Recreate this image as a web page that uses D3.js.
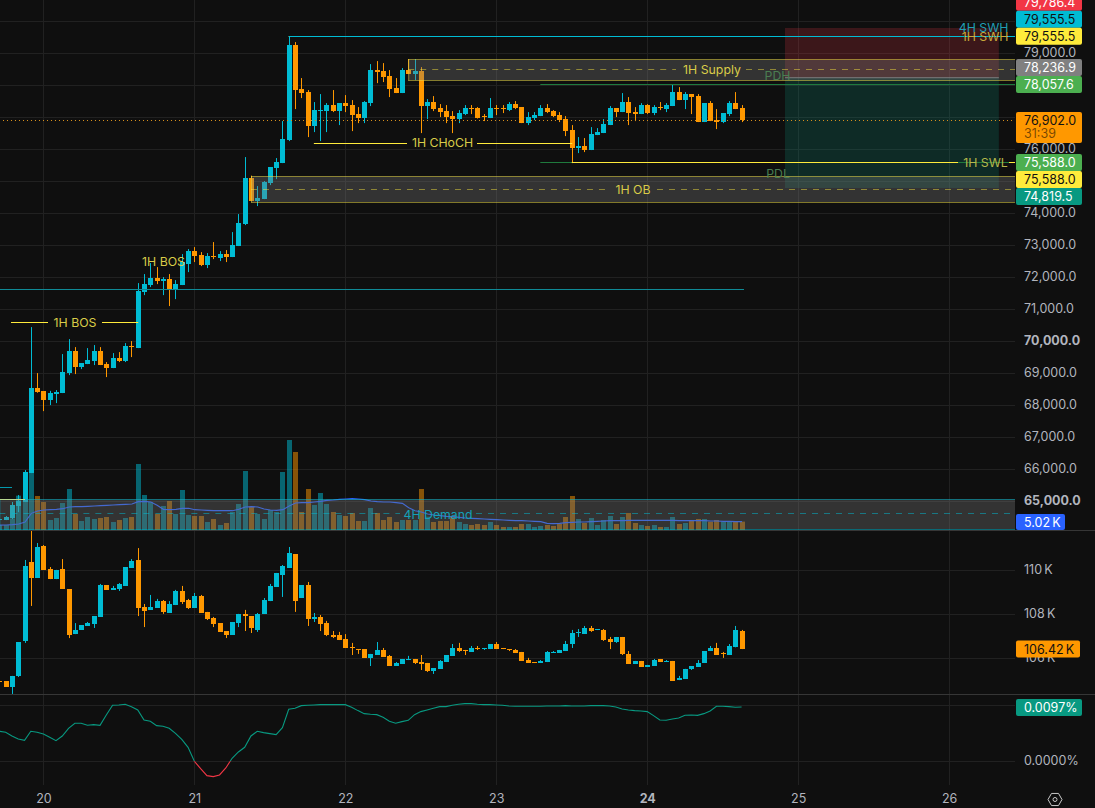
<!DOCTYPE html>
<html><head><meta charset="utf-8">
<style>html,body{margin:0;padding:0;background:#0f0f0f;overflow:hidden}svg{display:block}text{font-family:Inter,sans-serif}</style>
<script src="https://d3js.org/d3.v7.min.js"></script></head><body>
<script>
const firstHour=-7;
const priceOpen=[64420,64416,64479,64854,64979,65885,68541,
68447,68166,68354,68385,69010,69697,69197,69291,69385,69697,69291,69166,69479,69385,69845,69791,71541,71760,71979,71885,71947,71635,71760,72416,
72822,72697,72385,72666,72604,72729,72635,72979,73666,75104,74385,74447,74947,75416,75572,76291,79260,77885,77791,76729,77197,77197,77385,77197,
77447,77385,77104,76979,77447,78479,78447,78291,77916,77760,78479,78354,78447,77354,77479,77291,77197,77041,76947,77104,77291,77291,77041,76979,
77291,77291,77229,77416,77322,76822,76979,77041,77291,77197,77072,76947,76604,76041,76104,75979,76447,76510,76760,77291,77166,77479,77166,77104,
77385,77135,77322,77260,77354,77791,77541,77729,77666,76854,77447,76916,76854,77104,77447,77291];
const priceHigh=[64450,64541,64979,65197,65979,70447,69010,
68447,68455,68479,69604,70072,69822,69322,69791,69885,69822,69354,69635,69666,69947,70010,71822,72104,72447,72322,72010,72104,71916,72729,72885,
72947,72791,72760,73104,72822,72854,73416,73979,75760,75180,74854,75010,75447,75729,76885,79541,79354,78229,77854,77479,77729,77447,77854,77447,
77697,77541,77322,77510,78666,78760,78697,78479,78229,78541,78822,78822,78572,77572,77666,77416,77385,77197,77229,77385,77385,77322,77104,77604,
77385,77385,77479,77510,77322,77166,77166,77385,77416,77229,77166,77041,76760,76385,76354,76697,76666,76947,77354,77291,77760,77635,77322,77447,
77416,77385,77479,77447,78041,77947,77791,77729,77729,77447,77510,77260,77135,77510,77791,77385];
const priceLow=[64400,64416,64447,64666,64979,65885,68395,
67822,68010,68072,68385,68947,68979,69135,69291,69260,69260,68885,69166,69354,69354,69510,69791,71447,71697,71791,71447,71104,71322,71760,72166,
72479,72354,72291,72572,72510,72479,72635,72979,73635,74385,74229,74447,74885,75072,75572,76260,77260,77604,76385,76541,76260,76541,77166,76760,
77166,76572,76822,76822,77354,78072,78104,77635,77760,77760,78354,78166,76510,76947,77197,77010,76822,76510,76822,77072,77104,76965,76885,76979,
77072,77135,77197,77260,76822,76760,76916,77041,77135,77010,76854,76416,75572,75885,75916,75979,76447,76510,76760,77010,77166,76760,76885,77104,
77104,77072,77229,77166,77354,77541,77260,77104,76854,76854,76885,76635,76822,77041,77260,76854];
const priceClose=[64447,64510,64885,65020,65916,68541,68416,
68166,68385,68416,69041,69697,69197,69322,69416,69697,69260,69166,69479,69385,69854,69822,71572,71791,71979,71885,71947,71635,71791,72479,72822,
72666,72385,72666,72635,72729,72635,73010,73697,75104,74385,74479,74979,75447,75604,76322,79260,77854,77760,76729,77229,77229,77385,77197,77447,
77354,77072,76979,77479,78479,78416,78260,77885,77760,78479,78354,78447,77354,77479,77260,77166,77010,76947,77135,77291,77275,76979,77020,77291,
77275,77270,77416,77291,76822,77010,77072,77291,77166,77041,76916,76572,76041,76104,75979,76479,76541,76791,77291,77166,77479,77135,77104,77385,
77135,77322,77291,77385,77791,77541,77729,77635,76854,77447,76885,76854,77135,77447,77260,76902];
const volumeK=[3,3,7,20.6,17,34.2,20.4,
16.8,6,7.2,16.2,24.6,9.6,5.4,7.8,6.6,7.2,7.8,4.8,6,7.2,7.8,39.6,21,16.8,9.6,14.4,17.4,9.6,24,9,
8.4,8.4,4.8,6.6,3,4.2,10.8,15.6,35.4,13.8,9.6,6.6,12,10.8,34.8,54,46.8,10.8,24.6,15,22.2,15.6,10.8,9,
8.4,10.2,5.4,5.4,13.2,10.2,6,7.8,4.8,6,6,6,24.6,8,4.8,5.4,5.4,8.4,4.8,3.6,3,3.6,3,4.8,
3,1.8,1.8,1.8,3.6,3.6,1.8,2.4,3,2.4,3.6,7.8,20.4,6.6,4.2,7.2,3,6,8.4,3.6,7.8,10.2,4.2,3,
2.4,3,1.8,1.8,7.8,3.6,4.2,5.4,6.6,6.6,5,6,5,5,5,5.02];
const volumeMA=[2.9,3,3.2,3.6,4.8,10,11.4,
12,12.2,12.4,12.8,13.8,14,14,14.2,14.4,14.6,14.8,15,15.2,15.4,15.6,17,17.2,16.8,14.8,12.4,12.2,12.4,13,13,
12.2,12,11.8,11.6,11.6,11.6,11.6,12.4,13.8,14,13.8,12.6,12,11.8,12.2,14.4,16.2,16.4,16.4,16.8,17.2,17.8,18,18.4,
18.6,18.8,18.6,18.2,17.4,17,16.8,16.8,16.4,16,13.4,11.6,10.8,9.6,9,8.6,8.2,8,7.6,7.2,7,6.8,6.6,6.4,
6.2,6,5.8,5.6,5.6,5.4,5.2,5,4,3.8,4,4.4,4.6,4.8,4.8,5,5.2,5.4,5.6,5.6,5.6,5.8,5.8,5.8,
5.8,5.8,5.8,5.8,5.8,5.6,5.6,5.6,5.6,5.6,5.4,5.4,5.2,5.2,5,5];
const cvdOpen=[104.97,104.95,104.7,105.2,106.79,110.38,109.65,
111.11,110.06,109.6,110.06,109.15,107.10,107.29,107.47,107.56,107.88,109.33,109.11,109.15,109.29,110.11,110.47,108.33,108.2,108.29,108.6,108.06,108.42,109.06,108.65,
108.29,108.83,108.11,107.83,107.6,107.24,107.06,107.6,108.02,107.92,107.29,108.02,108.6,109.24,109.79,110.11,110.74,108.74,109.33,107.79,107.88,107.6,107.06,107.06,
106.88,106.52,106.42,106.42,106.02,106.15,106.38,106.11,105.65,105.74,105.92,105.97,105.83,105.79,105.42,105.52,105.83,106.11,106.47,106.38,106.29,106.47,106.42,106.42,
106.65,106.47,106.42,106.38,106.29,105.92,105.83,105.79,105.83,106.24,106.24,106.33,106.65,107.15,107.11,107.38,107.29,107.29,106.88,106.74,106.97,106.2,105.74,105.88,
105.61,105.65,105.97,105.83,105.88,105.01,105.06,105.52,105.61,105.79,106.33,106.47,106.22,106.15,106.5,107.24];
const cvdHigh=[104.97,104.95,105.2,106.74,110.47,111.79,111.24,
111.15,110.15,110.02,110.51,109.15,107.6,107.51,107.65,107.92,109.38,109.33,109.29,109.42,110.15,110.51,111.01,108.47,108.88,108.7,108.65,108.6,109.11,109.29,108.7,
108.97,108.88,108.11,107.88,107.6,107.24,107.65,108.02,108.2,107.92,108.06,108.74,109.38,109.88,110.24,111.06,110.74,109.33,109.47,108.06,107.97,107.7,107.24,107.2,
107.1,106.7,106.42,106.42,106.2,106.74,106.47,106.15,105.83,105.97,106.11,105.97,106.15,105.79,105.56,105.92,106.15,106.65,106.7,106.38,106.56,106.56,106.47,106.65,
106.74,106.47,106.42,106.42,106.29,106.02,105.83,105.92,106.33,106.33,106.38,106.79,107.29,107.33,107.47,107.47,107.33,107.33,106.97,106.97,106.97,106.33,105.88,105.88,
105.7,105.97,105.97,105.92,105.88,105.2,105.52,105.65,105.92,106.33,106.56,106.7,106.29,106.65,107.47,107.29];
const cvdLow=[104.93,104.7,104.38,105.15,106.7,108.38,109.65,
110.02,109.6,109.6,109.15,106.92,107.1,107.29,107.47,107.38,107.88,109.11,109.11,109.06,109.29,110.11,107.92,107.42,108.2,108.29,108.02,108.06,108.42,108.47,108.24,
108.29,108.06,107.74,107.42,107.2,106.92,107.06,107.42,107.24,107.15,107.2,108.02,108.6,109.24,108.79,110.11,108.11,108.74,107.47,107.65,107.24,107.01,106.92,106.83,
106.47,106.15,106.2,106.02,105.65,106.15,106.06,105.65,105.65,105.74,105.92,105.74,105.47,105.38,105.29,105.52,105.83,106.11,106.29,106.15,106.29,106.38,106.38,106.42,
106.42,106.42,106.33,106.24,105.88,105.79,105.8,105.79,105.83,106.24,106.24,106.33,106.47,106.97,107.11,107.2,107.29,106.79,106.42,106.7,106.15,105.74,105.74,105.61,
105.61,105.65,105.83,105.83,104.97,105.01,105.06,105.47,105.61,105.79,106.33,106.15,106.02,106.15,106.5,106.42];
const cvdClose=[104.95,104.7,105.2,106.74,110.2,109.65,111.06,
110.02,109.6,110.02,109.15,107.06,107.29,107.51,107.6,107.92,109.33,109.11,109.2,109.38,110.15,110.42,108.29,108.15,108.33,108.6,108.11,108.47,109.06,108.56,108.29,
108.83,108.06,107.79,107.56,107.2,107.06,107.65,108.02,107.92,107.38,108.02,108.65,109.29,109.88,110.2,110.79,108.6,109.33,107.79,107.88,107.56,107.06,106.97,106.83,
106.47,106.48,106.38,106.02,106.2,106.38,106.06,105.65,105.79,105.97,105.97,105.79,105.74,105.42,105.56,105.88,106.15,106.47,106.33,106.33,106.47,106.42,106.47,106.65,
106.42,106.42,106.38,106.24,105.88,105.79,105.8,105.88,106.29,106.29,106.38,106.65,107.15,107.2,107.38,107.24,107.33,106.83,106.74,106.97,106.2,105.74,105.88,105.61,
105.7,105.92,105.83,105.88,104.97,105.11,105.52,105.65,105.79,106.33,106.47,106.15,106.2,106.56,107.29,106.42];
const fundingPct=[.00536,.00518,.00452,.00399,.00375,.00536,.00518,
.00488,.00429,.00369,.00452,.00589,.00679,.00679,.00643,.00655,.00643,.00827,.01,.01006,.01018,.00976,.00917,.00738,.00714,.00637,.00625,.00589,.005,.00393,.0025,
0,-.00131,-.00256,-.00274,-.00244,-.00119,.00054,.00167,.0025,.00452,.00536,.00512,.00494,.00476,.00601,.00929,.00946,.00994,.01,.01006,.01012,.01012,.01012,.01012,
.01012,.00964,.00905,.00851,.00839,.00833,.00786,.00714,.00679,.00708,.00732,.00833,.00887,.00917,.00946,.00976,.00976,.01,.01018,.0103,.0103,.01018,.01012,.01012,
.01006,.01,.00988,.00982,.00982,.00982,.00982,.00982,.00988,.00988,.00988,.00994,.00988,.00988,.00988,.00994,.00994,.00994,.00988,.0097,.00935,.00917,.00905,.00899,
.00887,.00815,.00738,.00732,.00756,.00774,.00821,.00827,.00821,.00851,.00899,.00982,.00982,.00976,.00964,.0097];

const dayLabels=[20,21,22,23,24,25,26];
const priceGrid=[80000,79000,78000,77000,76000,75000,74000,73000,72000,71000,70000,69000,68000,67000,66000,65000];
const priceTicks=[79000,76000,74000,73000,72000,71000,70000,69000,68000,67000,66000,65000];
const boldPriceTicks=[70000,65000];
const cvdTicks=[110,108,106];
const fundingTicks=[0,0.01];
const fundingLabelTicks=[0];
const tagLabels=["79,786.4","79,555.5","79,555.5","78,236.9","78,057.6","75,588.0","75,588.0","74,819.5"];
const tagFills=["#f23645","#00bcd4","#ffeb3b","#808080","#4caf50","#4caf50","#ffeb3b","#089981"];
const tagInks=["#fff","#111","#111","#fff","#fff","#fff","#111","#fff"];
const tagSlots=[2.2,19.2,36.2,67.6,84.4,162.6,179.6,196.6];
const swingHigh=79540, supplyTop=78815, supplyMid=78484, supplyBottom=78150, pdh=78040, entry=78240;
const lastPrice=76902, swl=75590, pdlLabel=75240, obTop=75166, obMid=74750, obBottom=74345, tpBottom=74794, slTop=79794;
const demandTop=65065, demandMid=64620, demandBottom=64130;
const bosPrice1=70600, bosPrice2=72480, chochPrice=76200, longLine=71630;
const leftLineA=65440, leftLineB=65065;
const toolStart=117.9, toolEnd=151.9;

const W=1095,H=808,plotR=1015;
const x=d3.scaleLinear().domain([0,24]).range([43.4,194.36]);
const yP=d3.scaleLinear().domain([70000,79000]).range([341.4,53.4]);
const yV=d3.scaleLinear().domain([0,50]).range([530,446.67]);
const yC=d3.scaleLinear().domain([106,110]).range([658.3,570.3]);
const yF=d3.scaleLinear().domain([0,0.01]).range([761.3,705.3]);
const UP="#00bcd4",DOWN="#ff9800",AXIS="#b2b5be",LAB="#d9cc48";
const FS=12.5;
const hours=d3.range(firstHour,firstHour+priceOpen.length);
const col=h=>Math.round(x(h));
const days=dayLabels.map((d,i)=>i*24);

const svg=d3.select("body").append("svg").attr("width",W).attr("height",H);
svg.append("rect").attr("width",W).attr("height",H).attr("fill","#0f0f0f");
const defs=svg.append("defs");
defs.append("clipPath").attr("id","cm").append("rect").attr("x",0).attr("y",0).attr("width",plotR).attr("height",530);
defs.append("clipPath").attr("id","cc").append("rect").attr("x",0).attr("y",531).attr("width",plotR).attr("height",163);
defs.append("clipPath").attr("id","fpos").append("rect").attr("x",0).attr("y",695).attr("width",plotR).attr("height",yF(0)-695);
defs.append("clipPath").attr("id","fneg").append("rect").attr("x",0).attr("y",yF(0)).attr("width",plotR).attr("height",24);

const GRID="#212121";
function hgrid(g,scale,vals){g.selectAll(null).data(vals).join("line").attr("x1",0).attr("x2",plotR)
  .attr("y1",d=>Math.floor(scale(d))+.5).attr("y2",d=>Math.floor(scale(d))+.5).attr("stroke",GRID);}
function vgrid(g,y1,y2){g.selectAll(null).data(days).join("line").attr("y1",y1).attr("y2",y2)
  .attr("x1",d=>col(d)+.5).attr("x2",d=>col(d)+.5).attr("stroke",GRID);}
function candles(g,scale,O,Hi,Lo,C){
  const gs=g.selectAll(null).data(hours).join("g");
  gs.append("rect").attr("x",h=>col(h)).attr("width",1)
    .attr("y",(h,i)=>scale(Hi[i])).attr("height",(h,i)=>Math.max(1,scale(Lo[i])-scale(Hi[i])))
    .attr("fill",(h,i)=>C[i]>=O[i]?UP:DOWN);
  gs.append("rect").attr("x",h=>col(h)-2).attr("width",5)
    .attr("y",(h,i)=>Math.round(scale(Math.max(O[i],C[i]))))
    .attr("height",(h,i)=>Math.max(1,Math.round(Math.abs(scale(O[i])-scale(C[i])))))
    .attr("fill",(h,i)=>C[i]>=O[i]?UP:DOWN);
}

/* main pane */
const m=svg.append("g").attr("clip-path","url(#cm)");
hgrid(m.append("g"),yP,priceGrid); vgrid(m.append("g"),0,530);
m.append("g").selectAll("rect").data(hours).join("rect")
  .attr("x",h=>col(h)-2).attr("width",5)
  .attr("y",(h,i)=>yV(volumeK[i])).attr("height",(h,i)=>yV(0)-yV(volumeK[i]))
  .attr("fill",(h,i)=>priceClose[i]>=priceOpen[i]?UP:DOWN).attr("opacity",.5);
m.append("path").datum(volumeMA).attr("fill","none").attr("stroke","#2962ff").attr("stroke-width",1.1)
  .attr("d",d3.line().x((d,i)=>x(hours[i])+.5).y(d=>yV(d)));
candles(m.append("g"),yP,priceOpen,priceHigh,priceLow,priceClose);

const xT0=x(toolStart),xT1=x(toolEnd);
m.append("rect").attr("x",xT0).attr("width",xT1-xT0).attr("y",yP(slTop)).attr("height",yP(entry)-yP(slTop)).attr("fill","#f23645").attr("opacity",.2);
m.append("rect").attr("x",xT0).attr("width",xT1-xT0).attr("y",yP(entry)).attr("height",yP(tpBottom)-yP(entry)).attr("fill","#089981").attr("opacity",.2);
m.append("line").attr("x1",xT0).attr("x2",xT1).attr("y1",yP(entry)).attr("y2",yP(entry)).attr("stroke","#808080");

function zone(h0,top,mid,bot,border,dash,fill,gaps){
  const x0=x(h0),g=m.append("g");
  g.append("rect").attr("x",x0).attr("width",plotR-x0).attr("y",yP(top)).attr("height",yP(bot)-yP(top)).attr("fill",fill);
  [top,bot].forEach(p=>g.append("line").attr("x1",x0).attr("x2",plotR).attr("y1",Math.floor(yP(p))+.5).attr("y2",Math.floor(yP(p))+.5).attr("stroke",border));
  g.append("line").attr("x1",x0+.5).attr("x2",x0+.5).attr("y1",yP(top)).attr("y2",yP(bot)).attr("stroke",border);
  let segs=[[x0,gaps[0]],[gaps[1],plotR]];
  segs.forEach(s=>g.append("line").attr("x1",s[0]).attr("x2",s[1]).attr("y1",Math.floor(yP(mid))+.5).attr("y2",Math.floor(yP(mid))+.5).attr("stroke",dash).attr("stroke-dasharray","6 6"));
}
const gzone="rgba(120,120,120,.35)";
zone(58,supplyTop,supplyMid,supplyBottom,"rgba(255,235,59,.45)","rgba(255,235,59,.45)",gzone,[676,746]);
zone(33,obTop,obMid,obBottom,"rgba(255,235,59,.45)","rgba(255,235,59,.45)",gzone,[609,657]);
zone(-7,demandTop,demandMid,demandBottom,"rgba(0,188,212,.5)","rgba(0,188,212,.5)",gzone,[400,476]);

function hline(a,b,p,c,o){m.append("line").attr("x1",a).attr("x2",b).attr("y1",Math.floor(yP(p))+.5).attr("y2",Math.floor(yP(p))+.5).attr("stroke",c).attr("stroke-opacity",o||1);}
hline(x(39),plotR,swingHigh,"#ffeb3b");
hline(x(39),plotR,swingHigh,"#00bcd4");
hline(x(79),plotR,pdh,"#1f7a3d");
hline(x(79),plotR,swl,"#1f7a3d");
hline(x(84),958,swl,"#ffeb3b"); hline(1009,plotR,swl,"#ffeb3b");
hline(x(-5.15),48,bosPrice1,"#ffeb3b"); hline(102,x(15)+.5,bosPrice1,"#ffeb3b");
hline(x(43),407,chochPrice,"#ffeb3b"); hline(477,x(84)+.5,chochPrice,"#ffeb3b");
hline(0,744,longLine,"#0f8a96");
hline(0,12,leftLineA,"#00bcd4",.8);
hline(0,25,leftLineB,"#b8d890");
m.append("line").attr("x1",0).attr("x2",1012).attr("y1",Math.floor(yP(lastPrice))+.5).attr("y2",Math.floor(yP(lastPrice))+.5)
  .attr("stroke","#d8901c").attr("stroke-dasharray","1 3").attr("stroke-dashoffset",-3).attr("shape-rendering","crispEdges");

function lab(t,cx,y,c,anchor){m.append("text").text(t).attr("x",cx).attr("y",y).attr("dy",".36em").attr("text-anchor",anchor||"middle").attr("fill",c).attr("font-size",12.3);}
lab("4H SWH",1008.5,yP(swingHigh)-9,"#1f9fb5","end");
lab("1H SWH",1008.5,yP(swingHigh),"#c9a93a","end");
lab("1H Supply",712,yP(supplyMid),LAB);
lab("PDH",777.5,yP(pdh)-9,"#4a7d52");
lab("PDL",778,yP(pdlLabel),"#4a7d52");
lab("1H SWL",985.5,yP(swl),"#b5b84a");
lab("1H OB",633,yP(obMid),LAB);
lab("1H CHoCH",442.5,yP(chochPrice),LAB);
lab("1H BOS",75,yP(bosPrice1),LAB);
lab("1H BOS",163.5,yP(bosPrice2),LAB);
lab("4H Demand",438,yP(demandMid)+1.5,"#12a0b8");

/* cvd pane */
const c=svg.append("g").attr("clip-path","url(#cc)");
hgrid(c.append("g"),yC,cvdTicks); vgrid(c.append("g"),531,694);
candles(c.append("g"),yC,cvdOpen,cvdHigh,cvdLow,cvdClose);

/* funding pane */
const f=svg.append("g");
hgrid(f.append("g"),yF,fundingTicks); vgrid(f.append("g"),695,785);
const fl=d3.line().x((d,i)=>x(hours[i])).y(d=>yF(d));
f.append("path").datum(fundingPct).attr("clip-path","url(#fpos)").attr("fill","none").attr("stroke","#089981").attr("stroke-width",1.1).attr("d",fl);
f.append("path").datum(fundingPct).attr("clip-path","url(#fneg)").attr("fill","none").attr("stroke","#f23645").attr("stroke-width",1.1).attr("d",fl);

/* dividers */
[530,694].forEach(v=>svg.append("line").attr("x1",0).attr("x2",W).attr("y1",v+.5).attr("y2",v+.5).attr("stroke","#363636"));

/* axes */
function styleAxis(g,size,fill){g.select(".domain").remove();g.selectAll(".tick line").remove();
  g.selectAll("text").attr("font-size",size).attr("fill",fill).attr("font-family","Inter,sans-serif");}
const axP=svg.append("g").attr("transform","translate(1024,-1)")
  .call(d3.axisRight(yP).tickValues(priceTicks).tickSize(0).tickPadding(0).tickFormat(d3.format(",.1f")));
styleAxis(axP,FS,AXIS);
axP.selectAll("text").attr("font-weight",d=>boldPriceTicks.includes(d)?700:400);
const axC=svg.append("g").attr("transform","translate(1024,-1)")
  .call(d3.axisRight(yC).tickValues(cvdTicks).tickSize(0).tickPadding(0).tickFormat(d=>d+"\u2009K"));
styleAxis(axC,FS,AXIS);
const axF=svg.append("g").attr("transform","translate(1024,-1)")
  .call(d3.axisRight(yF).tickValues(fundingLabelTicks).tickSize(0).tickPadding(0).tickFormat(d=>d3.format(".4f")(d)+"%"));
styleAxis(axF,FS,AXIS);
const axT=svg.append("g").attr("transform","translate(0,794)")
  .call(d3.axisBottom(x).tickValues(days).tickSize(0).tickPadding(0).tickFormat((d,i)=>dayLabels[i]));
styleAxis(axT,FS,AXIS);
axT.selectAll("text").attr("font-weight",(d,i)=>dayLabels[i]===24?700:400);

/* tags */
function tag(yc,w,h,fill){svg.append("rect").attr("x",1016).attr("y",yc-h/2).attr("width",w).attr("height",h).attr("rx",2).attr("fill",fill);}
function tagText(t,yc,fillc){svg.append("text").text(t).attr("x",1024).attr("y",yc).attr("dy",".36em").attr("fill",fillc).attr("font-size",FS);}
tagLabels.forEach((t,i)=>{tag(tagSlots[i],66,17,tagFills[i]);tagText(t,tagSlots[i],tagInks[i]);});
tag(127.5,66,31,DOWN);
tagText(d3.format(",.1f")(lastPrice),120,"#111");
tagText("31:39",133.5,"rgba(0,0,0,.55)");
tag(522,49,16,"#2962ff"); tagText("5.02\u2009K",522,"#fff");
tag(yC(106.42),64,17,DOWN); tagText("106.42\u2009K",yC(106.42),"#111");
tag(707.5,66,17,"#089981"); tagText("0.0097%",707.5,"#fff");

/* settings icon */
const hex=d3.range(6).map(i=>[1055+7*Math.cos(Math.PI/3*i),799.5+7*Math.sin(Math.PI/3*i)]);
svg.append("path").attr("d",d3.line()(hex)+"Z").attr("fill","none").attr("stroke","#c8c8c8").attr("stroke-width",1);
svg.append("circle").attr("cx",1055).attr("cy",799.5).attr("r",2).attr("fill","none").attr("stroke","#c8c8c8");
</script></body></html>
